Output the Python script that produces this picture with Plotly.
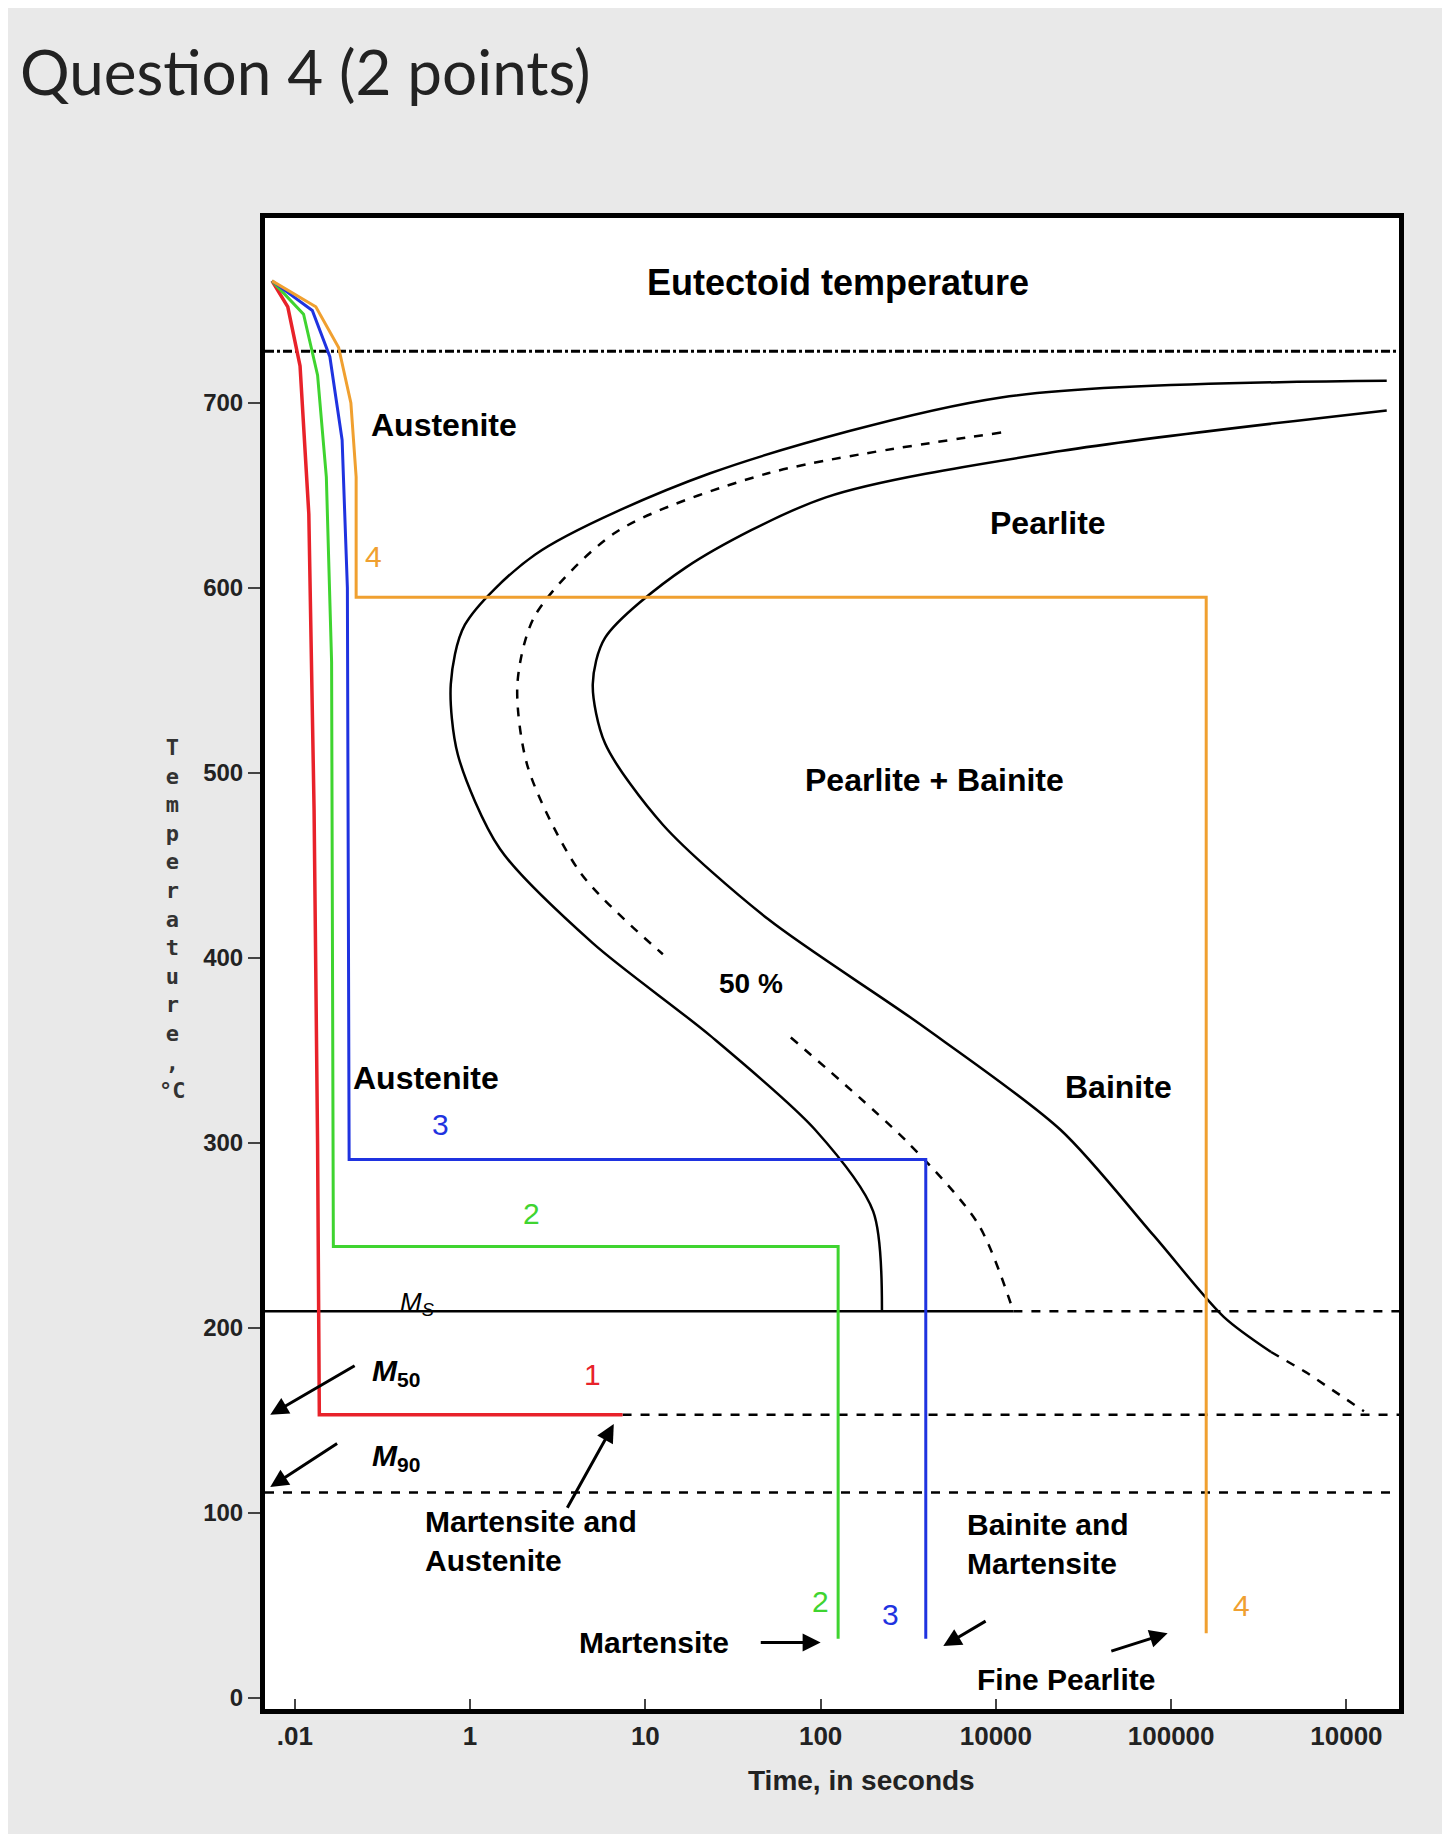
import plotly.graph_objects as go

# x is in "decade" units (one tick per decade on the original log axis)
tick_pos = [0, 1, 2, 3, 4, 5, 6]
tick_text = [".01", "1", "10", "100", "10000", "100000", "10000"]
y_ticks = [0, 100, 200, 300, 400, 500, 600, 700]

eutectoid_T = 728
ms_T = 209
m50_T = 153
m90_T = 111

# cooling paths
red_x = [-0.13, -0.04, 0.03, 0.08, 0.11, 0.13, 0.14, 1.87]
red_y = [766, 752, 720, 640, 480, 300, 153, 153]
green_x = [-0.13, 0.05, 0.13, 0.18, 0.21, 0.22, 3.1, 3.1]
green_y = [766, 748, 715, 660, 560, 244, 244, 32]
blue_x = [-0.13, 0.1, 0.2, 0.27, 0.3, 0.31, 3.6, 3.6]
blue_y = [766, 750, 725, 680, 600, 291, 291, 32]
orange_x = [-0.13, 0.12, 0.25, 0.32, 0.35, 0.35, 5.2, 5.2]
orange_y = [766, 752, 730, 700, 660, 595, 595, 35]

# transformation curves
start_x = [6.23, 4.03, 2.37, 1.37, 0.97, 0.89, 0.93, 1.17, 1.7, 2.37, 2.97, 3.3, 3.35]
start_y = [712, 703, 662, 618, 580, 548, 510, 459, 408, 358, 307, 263, 209]
mid_x = [4.03, 2.7, 1.83, 1.37, 1.27, 1.33, 1.63, 2.1, None, 2.83, 3.5, 3.9, 4.1]
mid_y = [684, 662, 630, 585, 548, 503, 446, 402, None, 357, 300, 256, 209]
end_x = [6.23, 4.37, 3.03, 2.23, 1.77, 1.7, 1.77, 2.1, 2.7, 3.57, 4.37, 4.9, 5.3, 5.57]
end_y = [696, 674, 649, 611, 573, 548, 516, 472, 421, 364, 307, 250, 206, 187]
tail_x = [5.57, 5.77, 6.1]
tail_y = [187, 176, 155]

fig = go.Figure()

def line(x, y, color, width=2.5, dash="solid", shape="linear"):
    fig.add_trace(go.Scatter(x=x, y=y, mode="lines",
                             line=dict(color=color, width=width, dash=dash, shape=shape, smoothing=0.8),
                             connectgaps=False, hoverinfo="skip", showlegend=False))

line([-0.17, 6.3], [eutectoid_T, eutectoid_T], "black", 3, "dashdot")
line([-0.17, 4.1], [ms_T, ms_T], "black", 2.5)
line([4.1, 6.3], [ms_T, ms_T], "black", 2.5, "dash")
line([1.87, 6.3], [m50_T, m50_T], "black", 2.5, "dash")
line([-0.17, 6.3], [m90_T, m90_T], "black", 2.5, "dash")
line(start_x, start_y, "black", 2.5, shape="spline")
line(mid_x, mid_y, "black", 2.5, "dash", shape="spline")
line(end_x, end_y, "black", 2.5, shape="spline")
line(tail_x, tail_y, "black", 2.5, "dash")
line(red_x, red_y, "#e8222a", 3.5)
line(green_x, green_y, "#3fd430", 3)
line(blue_x, blue_y, "#1f33e0", 3)
line(orange_x, orange_y, "#f0a030", 3)

f = "Liberation Sans"
def txt(x, y, s, size=28, color="black", **kw):
    fig.add_annotation(x=x, y=y, text=s, showarrow=False, font=dict(family=f, size=size, color=color), **kw)

txt(3.1, 765, "<b>Eutectoid temperature</b>", 36)
txt(0.85, 688, "<b>Austenite</b>", 32)
txt(4.3, 635, "<b>Pearlite</b>", 32)
txt(3.65, 496, "<b>Pearlite + Bainite</b>", 32)
txt(2.6, 386, "<b>50 %</b>", 28)
txt(4.7, 330, "<b>Bainite</b>", 32)
txt(0.75, 335, "<b>Austenite</b>", 32)
txt(0.45, 595 + 22, "4", 30, "#f0a030")
txt(0.83, 310, "3", 30, "#1f33e0")
txt(1.35, 262, "2", 30, "#3fd430")
txt(1.7, 175, "1", 30, "#e8222a")
txt(0.7, 213, "<i>M<sub>S</sub></i>", 26)
txt(0.58, 176, "<b><i>M</i><sub>50</sub></b>", 30)
txt(0.58, 130, "<b><i>M</i><sub>90</sub></b>", 30)
txt(1.35, 85, "<b>Martensite and<br>Austenite</b>", 30, align="left")
txt(4.3, 83, "<b>Bainite and<br>Martensite</b>", 30, align="left")
txt(2.05, 30, "<b>Martensite</b>", 30)
txt(4.4, 10, "<b>Fine Pearlite</b>", 30)
txt(3.0, 52, "2", 30, "#3fd430")
txt(3.4, 45, "3", 30, "#1f33e0")
txt(5.4, 50, "4", 30, "#f0a030")

def arrow(x, y, ax, ay):
    fig.add_annotation(x=x, y=y, ax=ax, ay=ay, axref="x", ayref="y", text="", showarrow=True,
                       arrowhead=2, arrowsize=1.2, arrowwidth=3, arrowcolor="black")

arrow(-0.14, m50_T, 0.35, 180)
arrow(-0.14, m90_T + 3, 0.25, 138)
arrow(1.82, 148, 1.55, 102)
arrow(3.0, 30, 2.65, 30)
arrow(3.7, 28, 3.95, 42)
arrow(4.98, 35, 4.65, 25)

fig.add_annotation(x=-0.218, y=1.125, xref="paper", yref="paper", text="Question 4 (2 points)",
                   showarrow=False, xanchor="left", font=dict(family="Lato", size=62, color="#222"))
fig.add_annotation(x=-0.095, y=0.53, xref="paper", yref="paper",
                   text="<b>" + "<br>".join(list("Temperature")) + "<br>,<br>°C</b>", showarrow=False,
                   font=dict(family="DejaVu Sans Mono", size=22, color="#333"), align="center")
fig.add_annotation(x=0.526, y=-0.06, xref="paper", yref="paper", text="<b>Time, in seconds</b>",
                   showarrow=False, font=dict(family=f, size=28, color="#222"))

fig.update_layout(
    width=1450, height=1834,
    paper_bgcolor="#e9e9e9", plot_bgcolor="white",
    margin=dict(l=257, r=59, t=210, b=133),
    xaxis=dict(range=[-0.17, 6.3], tickvals=tick_pos, ticktext=["<b>%s</b>" % t for t in tick_text],
               showgrid=False, zeroline=False, showline=True, mirror=True, linecolor="black", linewidth=5,
               ticks="inside", ticklen=10, tickwidth=2, tickfont=dict(family=f, size=26, color="#222")),
    yaxis=dict(range=[-6, 800], tickvals=y_ticks, ticktext=["<b>%d</b>" % t for t in y_ticks],
               showgrid=False, zeroline=False, showline=True, mirror=True, linecolor="black", linewidth=5,
               ticks="outside", ticklen=12, tickwidth=2, tickfont=dict(family=f, size=24, color="#222")),
)

fig.write_html("out.html")
